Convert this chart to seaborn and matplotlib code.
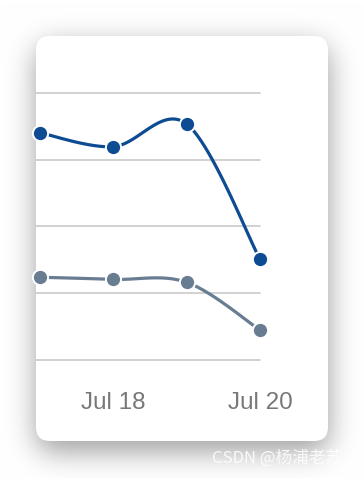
import numpy as np
import pandas as pd
import matplotlib
matplotlib.use('Agg')
import matplotlib.pyplot as plt
import matplotlib.dates as mdates
from matplotlib.patches import FancyBboxPatch
import seaborn as sns

# ---------------- data ----------------
dates = ['2024-07-17', '2024-07-18', '2024-07-19', '2024-07-20']
series_a = [85.1, 79.9, 88.4, 37.7]
series_b = [31.0, 30.2, 29.1, 11.2]
tick_dates = ['2024-07-18', '2024-07-20']
tick_labels = ['Jul 18', 'Jul 20']
grid_values = [0, 25, 50, 75, 100]
watermark = 'CSDN @杨浦老苏'

COLOR_A = '#0d4c93'
COLOR_B = '#687d92'

W, H = 364, 478
sns.set_theme(style='white')
plt.rcParams['font.family'] = ['Liberation Sans', 'DejaVu Sans']

fig = plt.figure(figsize=(W / 100, H / 100), dpi=100)
fig.patch.set_facecolor('white')

# ---------------- card shadow ----------------
yy, xx = np.mgrid[0:H, 0:W]


def rrect_mask(x0, y0, x1, y1, r):
    cx = np.clip(xx, x0 + r, x1 - r)
    cy = np.clip(yy, y0 + r, y1 - r)
    return (((xx - cx) ** 2 + (yy - cy) ** 2) <= r * r).astype(float)


mask = rrect_mask(36, 45, 328, 451, 14)
sig = 14
k = np.arange(-3 * sig, 3 * sig + 1)
g = np.exp(-k ** 2 / (2 * sig ** 2))
g /= g.sum()
blur = np.apply_along_axis(lambda r: np.convolve(r, g, mode='same'), 1, mask)
blur = np.apply_along_axis(lambda c: np.convolve(c, g, mode='same'), 0, blur)
shade = 1 - 0.37 * blur
img = np.dstack([shade, shade, shade])

bg = fig.add_axes([0, 0, 1, 1])
bg.imshow(img, aspect='auto', interpolation='bilinear')
bg.set_xlim(-0.5, W - 0.5)
bg.set_ylim(H - 0.5, -0.5)
bg.set_axis_off()

card = FancyBboxPatch((35.5, 35.5), 292, 405,
                      boxstyle='round,pad=0,rounding_size=14',
                      facecolor='white', edgecolor='none')
bg.add_patch(card)

fig.text(212 / W, (H - 458) / H, watermark, ha='left', va='center',
         fontsize=12, color='white', alpha=0.85,
         family=['Noto Sans CJK SC', 'DejaVu Sans'])

# ---------------- chart ----------------
ax = fig.add_axes([36 / W, (H - 360) / H, 224 / W, 267 / H])
ax.patch.set_alpha(0)

x = mdates.date2num(pd.to_datetime(dates))
day_px = 220 / 3.0
ax.set_xlim(x[0] - 4 / day_px, x[-1])
ax.set_ylim(grid_values[0], grid_values[-1])

for v in grid_values:
    ax.axhline(v, color='#c9c9c9', lw=1.2, clip_on=False, zorder=1)


def catmull_rom(xv, yv, n=40):
    xv = np.asarray(xv, float)
    yv = np.asarray(yv, float)
    px = np.concatenate([[xv[0]], xv, [xv[-1]]])
    py = np.concatenate([[yv[0]], yv, [yv[-1]]])
    outx, outy = [], []
    for i in range(1, len(px) - 2):
        t = np.linspace(0, 1, n)
        h00 = 2 * t ** 3 - 3 * t ** 2 + 1
        h10 = t ** 3 - 2 * t ** 2 + t
        h01 = -2 * t ** 3 + 3 * t ** 2
        h11 = t ** 3 - t ** 2
        mx0 = (px[i + 1] - px[i - 1]) / 2
        mx1 = (px[i + 2] - px[i]) / 2
        my0 = (py[i + 1] - py[i - 1]) / 2
        my1 = (py[i + 2] - py[i]) / 2
        outx.append(h00 * px[i] + h10 * mx0 + h01 * px[i + 1] + h11 * mx1)
        outy.append(h00 * py[i] + h10 * my0 + h01 * py[i + 1] + h11 * my1)
    return np.concatenate(outx), np.concatenate(outy)


for vals, col in [(series_b, COLOR_B), (series_a, COLOR_A)]:
    sx, sy = catmull_rom(x, vals)
    ln, = ax.plot(sx, sy, color=col, lw=2.3, clip_on=False, zorder=2,
                  solid_capstyle='round')
    ln.set_clip_path(card)
    before = len(ax.collections)
    sns.scatterplot(x=x, y=vals, ax=ax, s=120, color=col, edgecolor='white',
                    linewidth=1.4, zorder=3, clip_on=False, legend=False)
    for c in ax.collections[before:]:
        c.set_clip_path(card)

ax.set_xticks(mdates.date2num(pd.to_datetime(tick_dates)))
ax.set_xticklabels(tick_labels)
ax.set_yticks([])
ax.tick_params(axis='x', length=0, pad=23, labelsize=17.5, labelcolor='#787878')
for s in ax.spines.values():
    s.set_visible(False)
ax.set_xlabel('')
ax.set_ylabel('')

fig.savefig('out.png', dpi=100, facecolor='white')
